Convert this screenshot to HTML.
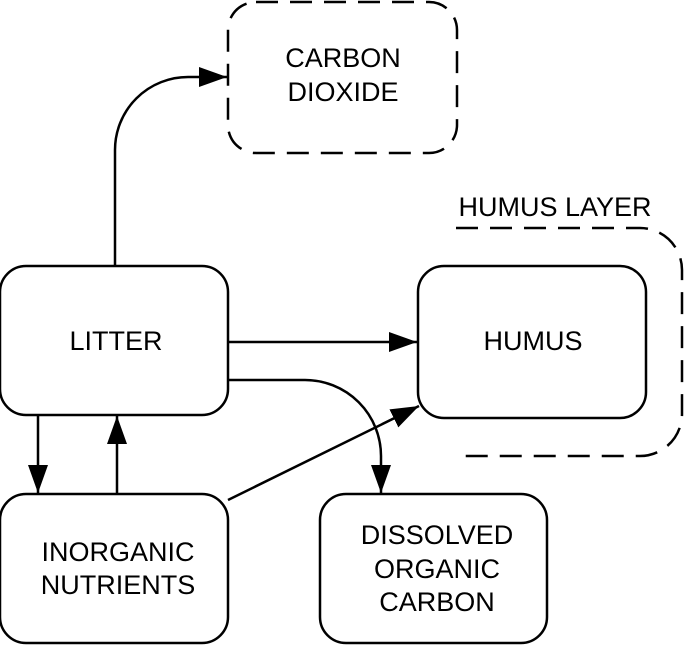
<!DOCTYPE html>
<html><head><style>
body{margin:0;background:#fff}
svg text{font-family:"Liberation Sans",Arial,sans-serif;font-size:27px;fill:#000}
</style></head><body>
<svg width="685" height="646" viewBox="0 0 685 646" xmlns="http://www.w3.org/2000/svg">
<defs><marker id="a" markerWidth="30" markerHeight="20" refX="28" refY="10" orient="auto" markerUnits="userSpaceOnUse"><path d="M0,0 L28,10 L0,20 Z" fill="#000"/></marker></defs>
<g fill="none" stroke="#000" stroke-width="2.5">
<rect x="228" y="2" width="229" height="151" rx="28" stroke-dasharray="22,12"/>
<path d="M456,228 H640 A42,42 0 0 1 682,270 V414 A42,42 0 0 1 640,456 H456" stroke-dasharray="22,12"/>
<rect x="0" y="266" width="228" height="149" rx="26"/>
<rect x="418" y="266" width="228" height="152" rx="26"/>
<rect x="0" y="494" width="228" height="149" rx="26"/>
<rect x="320" y="494" width="227" height="149" rx="26"/>
<path d="M115,266 V150 A73,73 0 0 1 188,77 H227" marker-end="url(#a)"/>
<path d="M228,342 H417" marker-end="url(#a)"/>
<path d="M228,380 H305 A76,76 0 0 1 381,456 V493" marker-end="url(#a)"/>
<path d="M228,500 L419,406" marker-end="url(#a)"/>
<path d="M38,415 V493" marker-end="url(#a)"/>
<path d="M117,494 V416" marker-end="url(#a)"/>
</g>
<g text-anchor="middle">
<text x="343" y="67">CARBON</text><text x="343" y="101">DIOXIDE</text>
<text x="555" y="216">HUMUS LAYER</text>
<text x="116" y="350">LITTER</text>
<text x="533" y="350">HUMUS</text>
<text x="118" y="561">INORGANIC</text><text x="118" y="594">NUTRIENTS</text>
<text x="437" y="544">DISSOLVED</text><text x="437" y="578">ORGANIC</text><text x="437" y="611">CARBON</text>
</g>
</svg>
</body></html>
